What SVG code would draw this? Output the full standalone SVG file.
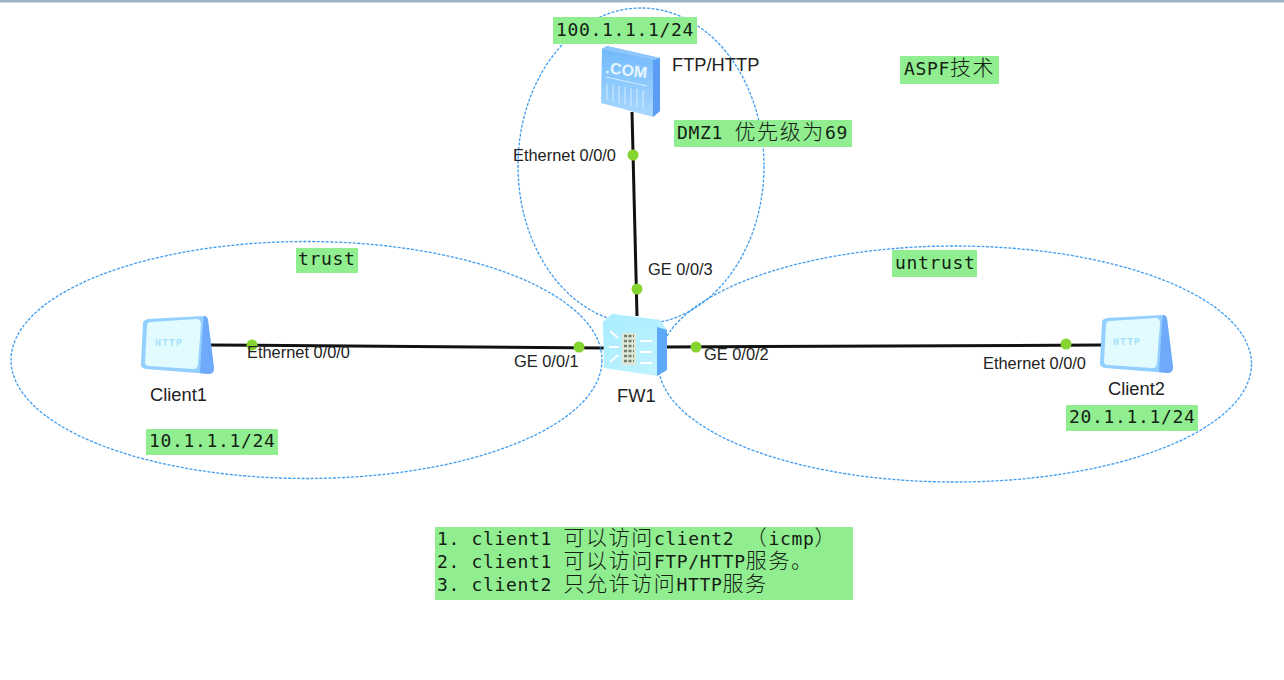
<svg xmlns="http://www.w3.org/2000/svg" width="1284" height="680" viewBox="0 0 1284 680">
<style>
.zone{fill:none;stroke:#3f9cf0;stroke-width:1.300;stroke-dasharray:3 1.500}
.link{stroke:#111;stroke-width:3;fill:none}
.dot{fill:#86d42f}
.lab{font-family:"Liberation Sans",Arial,sans-serif;font-size:16.400px;fill:#222}
.name{font-family:"Liberation Sans",Arial,sans-serif;font-size:18.300px;fill:#222}
.bg{fill:#90ee90}
.mono{font-family:"DejaVu Sans Mono","Noto Sans CJK SC",monospace;font-size:18px;fill:#142014;letter-spacing:0.660px}
.cjk{font-family:"Noto Sans CJK SC",sans-serif;font-size:21px;letter-spacing:1.600px;font-weight:300}
.http{font-family:"Liberation Mono",monospace;font-size:10px;font-weight:bold;fill:#a6e2fa;letter-spacing:1px}
</style>
<defs>
<linearGradient id="srv" x1="0" y1="0" x2="0" y2="1"><stop offset="0" stop-color="#6fb8fb"/><stop offset="1" stop-color="#a9d8ff"/></linearGradient>
<linearGradient id="fw" x1="0" y1="0" x2="1" y2="1"><stop offset="0" stop-color="#a6ecff"/><stop offset="1" stop-color="#c4f4ff"/></linearGradient>
<g id="client">
<path d="M6 3 L62 0 Q65 0 66 4 L72 52 Q72 58 67 58 L4 53 Q-2 52 -1 47 L1 7 Q1 4 6 3Z" fill="#94d0ff"/>
<path d="M62 0 Q65 0 66 4 L72 52 Q72 58 66 58 L58 57 L61 8Z" fill="#6fa9f9"/>
<path d="M9 6 L54 3 Q59 3 59 8 L56 48 Q56 53 51 53 L7 50 Q3 50 3 46 L5 10 Q5 6 9 6Z" fill="#e2fbff"/>
</g>
</defs>
<rect x="0" y="0" width="1284" height="2.500" fill="#9db4c8"/>

<g id="connectors">
<line class="link" x1="210" y1="345" x2="604" y2="348"/>
<line class="link" x1="666" y1="347" x2="1101" y2="345"/>
<line class="link" x1="632" y1="112" x2="637" y2="316"/>
</g>

<g id="zones">
<ellipse class="zone" cx="306.500" cy="360" rx="295.500" ry="118.500"/>
<ellipse class="zone" cx="641" cy="166" rx="123" ry="158"/>
<ellipse class="zone" cx="955" cy="364" rx="296.500" ry="118"/>
</g>

<g id="port-dots">
<circle class="dot" cx="252" cy="345" r="5.500"/>
<circle class="dot" cx="579" cy="347" r="5.500"/>
<circle class="dot" cx="696" cy="347" r="5.500"/>
<circle class="dot" cx="1066" cy="344" r="5.500"/>
<circle class="dot" cx="633" cy="155" r="5.500"/>
<circle class="dot" cx="637" cy="289" r="5.500"/>
</g>

<g id="node-server">
<path d="M602 49 L607 46 L660 58 L660 111 L653 117 L601 103Z" fill="url(#srv)"/>
<path d="M653 60 L660 58 L660 111 L653 117Z" fill="#5b9cf4"/>
<path d="M602 49 L607 46 L660 58 L653 60Z" fill="#8cc6fc"/>
<text x="605" y="73" transform="rotate(7 605 73)" font-family="Liberation Sans,sans-serif" font-weight="bold" font-size="16" fill="#e6f6ff">.COM</text>
<path d="M606 77 L647 86 M607 84 V100 M613 85 V102 M619 86 V103 M625 87 V104 M631 88 V106 M637 89 V107 M643 90 V109" stroke="#d2ecff" stroke-width="1" fill="none"/>
<text class="name" x="672" y="71">FTP/HTTP</text>
</g>

<g id="node-fw1">
<path d="M603 322 L612 314 L660 320 L667 330 L667 370 L657 376 L604 368Z" fill="url(#fw)"/>
<path d="M657 327 L667 330 L667 370 L657 376Z" fill="#5da8f8"/>
<path d="M603 322 L612 314 L660 320 L657 327Z" fill="#b0eeff"/>
<rect x="622" y="333" width="14" height="32" fill="#dfe8d8"/>
<path d="M624 336 H634 M624 341 H634 M624 346 H634 M624 351 H634 M624 356 H634 M624 361 H634" stroke="#717f6c" stroke-width="2.500" stroke-dasharray="3 1.500"/>
<path d="M610 331 L618 338 M609 347 H619 M610 362 L618 355 M640 341 H652 M640 352 H652 M640 363 H652" stroke="#fff" stroke-width="2"/>
<text class="name" x="617" y="402">FW1</text>
</g>

<g id="node-client1">
<use href="#client" x="142" y="316"/>
<text class="http" x="155" y="346">HTTP</text>
<text class="name" x="150" y="401">Client1</text>
</g>

<g id="node-client2">
<use href="#client" x="1101" y="315"/>
<text class="http" x="1113" y="345">HTTP</text>
<text class="name" x="1108" y="395">Client2</text>
</g>

<g id="port-labels">
<text class="lab" x="247" y="358">Ethernet 0/0/0</text>
<text class="lab" x="514" y="367">GE 0/0/1</text>
<text class="lab" x="704" y="360">GE 0/0/2</text>
<text class="lab" x="983" y="369">Ethernet 0/0/0</text>
<text class="lab" x="513" y="161">Ethernet 0/0/0</text>
<text class="lab" x="648" y="275">GE 0/0/3</text>
</g>

<g id="notes">
<rect class="bg" x="553" y="17" width="144" height="27"/>
<text class="mono" x="556" y="36">100.1.1.1/24</text>
<rect class="bg" x="674" y="120" width="178" height="27"/>
<text class="mono" x="677" y="139">DMZ1 <tspan class="cjk">优先级为</tspan>69</text>
<rect class="bg" x="900" y="56" width="99" height="28"/>
<text class="mono" x="904" y="75">ASPF<tspan class="cjk">技术</tspan></text>
<rect class="bg" x="296" y="248" width="62" height="25"/>
<text class="mono" x="298" y="265">trust</text>
<rect class="bg" x="892" y="250" width="85" height="27"/>
<text class="mono" x="895" y="269">untrust</text>
<rect class="bg" x="146" y="429" width="132" height="26"/>
<text class="mono" x="149" y="447">10.1.1.1/24</text>
<rect class="bg" x="1066" y="405" width="132" height="26"/>
<text class="mono" x="1069" y="423">20.1.1.1/24</text>
<rect class="bg" x="435" y="527" width="418" height="73"/>
<text class="mono" x="437" y="545">1. client1 <tspan class="cjk">可以访问</tspan>client2 <tspan class="cjk">（</tspan>icmp<tspan class="cjk">）</tspan></text>
<text class="mono" x="437" y="568">2. client1 <tspan class="cjk">可以访问</tspan>FTP/HTTP<tspan class="cjk">服务。</tspan></text>
<text class="mono" x="437" y="591">3. client2 <tspan class="cjk">只允许访问</tspan>HTTP<tspan class="cjk">服务</tspan></text>
</g>
</svg>
